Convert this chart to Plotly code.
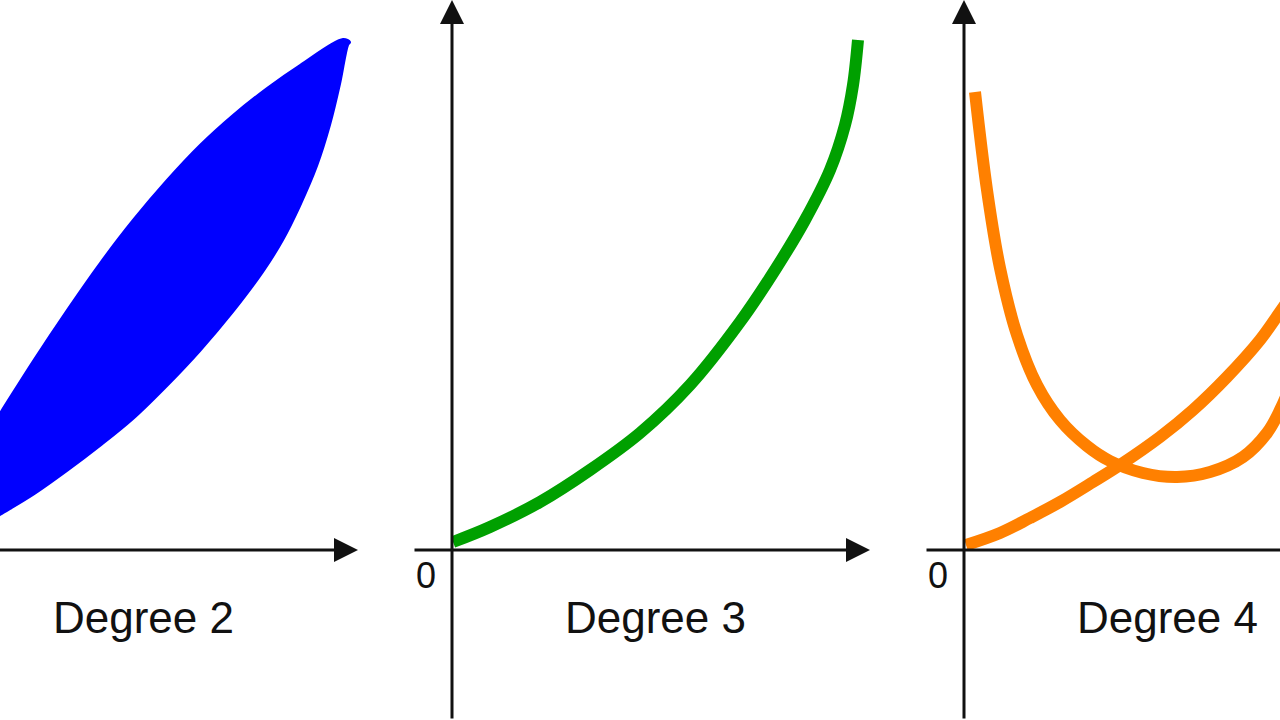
import plotly.graph_objects as go

# three panels, each in its own coordinates (origin at the axes crossing)
panel_titles = ["Degree 2", "Degree 3", "Degree 4"]
origin_label = "0"

# Degree 2: filled lens between two edges
blue_upper_x = [0.30, 0.60, 0.93, 1.27, 1.60, 1.93, 2.27, 2.60, 2.93, 3.27, 3.60, 4.03, 4.10]
blue_upper_y = [0.90, 1.37, 1.89, 2.40, 2.87, 3.30, 3.70, 4.05, 4.35, 4.62, 4.85, 5.11, 5.08]
blue_lower_x = [4.08, 4.00, 3.90, 3.77, 3.60, 3.43, 3.23, 2.93, 2.60, 2.27, 1.93, 1.60, 1.27, 0.93, 0.60, 0.30]
blue_lower_y = [5.05, 4.66, 4.25, 3.84, 3.44, 3.10, 2.78, 2.38, 1.99, 1.64, 1.31, 1.04, 0.79, 0.55, 0.35, 0.17]

# Degree 3: single rising curve
green_x = [0.01, 0.38, 0.88, 1.38, 1.88, 2.38, 2.88, 3.23, 3.53, 3.78, 3.93, 4.01, 4.06]
green_y = [0.08, 0.23, 0.48, 0.80, 1.17, 1.65, 2.28, 2.80, 3.30, 3.80, 4.25, 4.65, 5.10]

# Degree 4: U-shaped curve and rising curve
orange_u_x = [0.11, 0.23, 0.36, 0.53, 0.73, 0.96, 1.23, 1.46, 1.79, 2.13, 2.46, 2.79, 3.03, 3.16, 3.36]
orange_u_y = [4.58, 3.60, 2.82, 2.15, 1.65, 1.30, 1.04, 0.89, 0.77, 0.73, 0.78, 0.93, 1.17, 1.40, 1.88]
orange_rise_x = [0.02, 0.36, 0.66, 0.96, 1.29, 1.56, 1.96, 2.29, 2.63, 2.96, 3.16, 3.36]
orange_rise_y = [0.05, 0.17, 0.32, 0.48, 0.68, 0.85, 1.13, 1.40, 1.73, 2.10, 2.38, 2.67]

# x ranges put each panel's origin where it sits in the frame
x_ranges = [[0.60, 13.40], [-4.52, 8.28], [-9.64, 3.16]]
y_range = [-1.70, 5.50]

BLUE = "#0000ff"
GREEN = "#00a000"
ORANGE = "#ff8000"
INK = "#111111"
FONT = "Liberation Sans, Arial, sans-serif"

fig = go.Figure()

fig.add_trace(go.Scatter(
    x=blue_upper_x + blue_lower_x,
    y=blue_upper_y + blue_lower_y,
    mode="lines", fill="toself", fillcolor=BLUE,
    line=dict(color=BLUE, width=2, shape="spline", smoothing=1.0, simplify=False),
    xaxis="x", yaxis="y", hoverinfo="skip"
))

fig.add_trace(go.Scatter(
    x=green_x, y=green_y, mode="lines",
    line=dict(color=GREEN, width=12, shape="spline", smoothing=1.0, simplify=False),
    xaxis="x2", yaxis="y", hoverinfo="skip"
))

for xs, ys in [(orange_u_x, orange_u_y), (orange_rise_x, orange_rise_y)]:
    fig.add_trace(go.Scatter(
        x=xs, y=ys, mode="lines",
        line=dict(color=ORANGE, width=12, shape="spline", smoothing=1.0, simplify=False),
        xaxis="x3", yaxis="y", hoverinfo="skip"
    ))

annotations = []
for i, title in enumerate(panel_titles):
    xref = "x" if i == 0 else f"x{i + 1}"
    # x axis with arrow
    annotations.append(dict(
        x=4.18, y=0, ax=-0.39, ay=0, xref=xref, yref="y", axref=xref, ayref="y",
        text="", showarrow=True, arrowhead=2, arrowsize=1.6, arrowwidth=3,
        arrowcolor=INK, standoff=0
    ))
    # y axis with arrow
    annotations.append(dict(
        x=0, y=5.50, ax=0, ay=-1.70, xref=xref, yref="y", axref=xref, ayref="y",
        text="", showarrow=True, arrowhead=2, arrowsize=1.6, arrowwidth=3,
        arrowcolor=INK, standoff=0
    ))
    annotations.append(dict(
        x=-0.26, y=-0.25, xref=xref, yref="y", text=origin_label, showarrow=False,
        font=dict(family=FONT, size=36, color=INK),
        xanchor="center", yanchor="middle"
    ))
    annotations.append(dict(
        x=2.03, y=-0.67, xref=xref, yref="y", text=title, showarrow=False,
        font=dict(family=FONT, size=44, color=INK),
        xanchor="center", yanchor="middle"
    ))

axis_style = dict(visible=False, showgrid=False, zeroline=False, fixedrange=True)

fig.update_layout(
    width=1280, height=720,
    margin=dict(l=0, r=0, t=0, b=0),
    paper_bgcolor="white", plot_bgcolor="white",
    showlegend=False,
    xaxis=dict(range=x_ranges[0], domain=[0, 1], **axis_style),
    xaxis2=dict(range=x_ranges[1], domain=[0, 1], overlaying="x", **axis_style),
    xaxis3=dict(range=x_ranges[2], domain=[0, 1], overlaying="x", **axis_style),
    yaxis=dict(range=y_range, domain=[0, 1], **axis_style),
    annotations=annotations
)

fig.write_html("out.html", config={"displayModeBar": False},
               post_script="document.body.style.margin='0';")
